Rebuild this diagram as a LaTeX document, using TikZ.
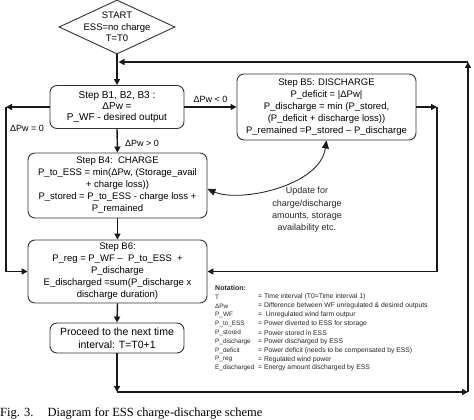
\documentclass[tikz,border=0pt]{standalone}
\usepackage{fontspec}
\setmainfont{Liberation Sans}
\newfontfamily\capfont{Liberation Serif}
\usetikzlibrary{shapes.geometric,arrows.meta}
\begin{document}
\begin{tikzpicture}[x=1pt,y=-1pt,
  box/.style={draw=black!80, line width=0.9pt, rounded corners=7pt, align=center, inner sep=0pt, font=\fontsize{9.5}{12}\selectfont},
  flow/.style={line width=1.4pt, draw=black!90, -{Triangle[width=6pt,length=6pt]}},
  lbl/.style={font=\fontsize{9}{11}\selectfont, inner sep=1pt},
  note/.style={font=\fontsize{6.8}{8.9}\selectfont, text=black!85, inner sep=0pt, anchor=west}
]
\clip (0,0) rectangle (474,420);
\fill[white] (0,0) rectangle (474,420);
% start
\node[diamond, draw=black!80, line width=0.9pt, minimum width=116pt, minimum height=54pt, inner sep=0pt] (start) at (117,27) {};
\node[align=center, inner sep=0pt, font=\fontsize{9.5}{11.5}\selectfont] (starttxt) at (117,27) {START\\ESS=no charge\\T=T0};
% boxes
\node[box, minimum width=134pt, minimum height=43pt, font=\fontsize{10}{11}\selectfont] (b1) at (117,107) {Step B1, B2, B3 :\\ ΔPw =\\ P\_WF - desired output};
\node[box, minimum width=179pt, minimum height=65pt] (b4) at (117.5,185.5) {Step B4:\ \ CHARGE\\ P\_to\_ESS = min(ΔPw, (Storage\_avail\\ + charge loss))\\ P\_stored = P\_to\_ESS - charge loss +\\ P\_remained};
\node[box, minimum width=179pt, minimum height=63pt] (b6) at (117.5,271.5) {Step B6:\\ P\_reg = P\_WF –\ \ P\_to\_ESS\ \ +\\ P\_discharge\\ E\_discharged =sum(P\_discharge x\\ discharge duration)};
\node[box, minimum width=134pt, minimum height=30pt, font=\fontsize{10.5}{13}\selectfont] (proc) at (117,338) {Proceed to the next time\\ interval: T=T0+1};
\node[box, minimum width=179pt, minimum height=66pt] (b5) at (326.5,107) {Step B5: DISCHARGE\\ P\_deficit = |ΔPw|\\ P\_discharge = min (P\_stored,\\ (P\_deficit + discharge loss))\\ P\_remained =P\_stored – P\_discharge};
% coordinates
\coordinate (cbl) at (117,392);
\coordinate (cbr) at (468,392);
\coordinate (ctr) at (468,62);
\coordinate (cj) at (118.5,62);
\coordinate (cl) at (6,107);
\coordinate (cr) at (437,107);
% connectors
\draw[flow] (start.south) -- (b1.north);
\draw[flow] (proc.south) -- (cbl);
\draw[flow] (cbl) -- (cbr);
\draw[flow] (cbr) -- (ctr);
\draw[flow] (ctr) -- (cj);
\draw[flow] (b1.east) -- (b5.west) node[lbl, midway, above=3pt] (lneg) {ΔPw < 0};
\draw[flow] (b1.west) -- (cl);
\draw[flow] (cl) |- (b6.west);
\node[lbl] (lzero) at (27,128) {ΔPw = 0};
\draw[flow] (b1.south) -- (b4.north);
\node[lbl, anchor=west] (lpos) at (124,143) {ΔPw > 0};
\draw[flow] (b4.south) -- (b6.north);
\draw[flow] (b6.south) -- (proc.north);
\draw[flow] (b5.east) -- (cr);
\draw[flow] (cr) |- (b6.east);
% update curve
\draw[line width=0.8pt, black!90, {Triangle[width=7pt,length=8pt]}-{Triangle[width=7pt,length=8pt]}] ([yshift=-3.5pt]b4.east) .. controls (240,203) and (320,186) .. (b5.south);
\node[align=center, font=\fontsize{9}{12.3}\selectfont, text=black!85, inner sep=0pt] (upd) at (307,210) {Update for\\ charge/discharge\\ amounts, storage\\ availability etc.};
% notation
\node[note, font=\fontsize{7}{8.9}\selectfont\bfseries] (nothead) at (215,288) {Notation:};
\foreach \k/\a/\b in {1/T/{= Time interval (T0=Time interval 1)},
  2/ΔPw/{= Difference between WF unregulated \& desired outputs},
  3/P\_WF/{=\ \ Unregulated wind farm outpur},
  4/P\_to\_ESS/{= Power diverted to ESS for storage},
  5/P\_stored/{= Power stored in ESS},
  6/P\_discharge/{= Power discharged by ESS},
  7/P\_deficit/{= Power deficit (needs to be compensated by ESS)},
  8/P\_reg/{= Regulated wind power},
  9/E\_discharged/{= Energy amount discharged by ESS}}{
  \node[note, font=\fontsize{6.4}{8.9}\selectfont] (na\k) at (215,{297+8.9*(\k-1)}) {\a};
  \node[note] (nb\k) at (258,{297+8.9*(\k-1)}) {\b};
}
% caption
\node[anchor=base west, inner sep=0pt, font=\capfont\fontsize{12.5}{14}\selectfont] (cap) at (0,416.5) {Fig. 3.\hspace{10pt} Diagram for ESS charge-discharge scheme};
\end{tikzpicture}
\end{document}
